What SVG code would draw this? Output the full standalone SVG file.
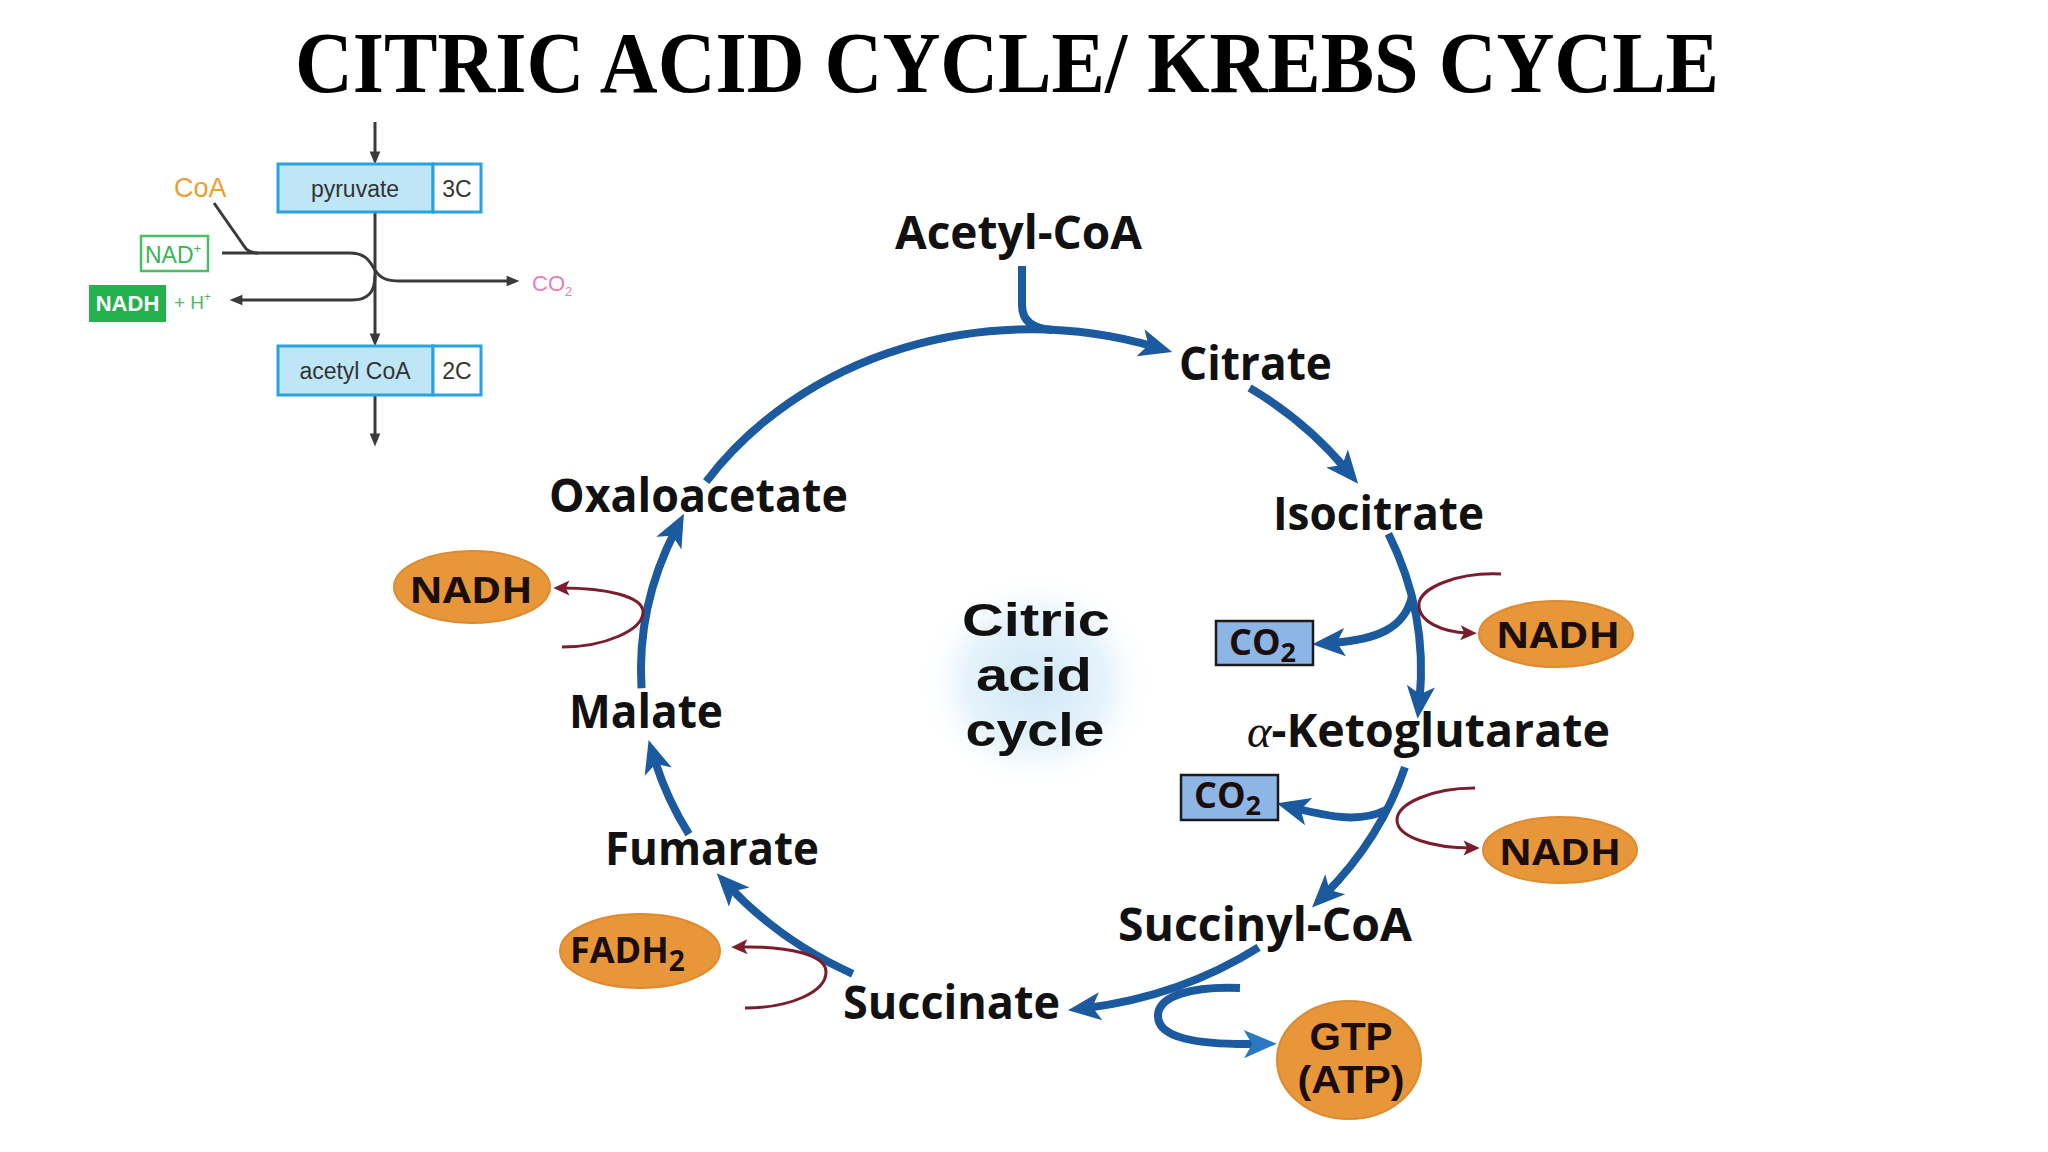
<svg xmlns="http://www.w3.org/2000/svg" width="2048" height="1152" viewBox="0 0 2048 1152">
<defs>
<style>
.title{font-family:"Liberation Serif","Times New Roman",serif;font-weight:700;font-size:87px;fill:#000}
.lbl{font-family:"Open Sans","Liberation Sans",sans-serif;font-weight:700;font-size:46px;fill:#111}
.ctr{font-family:"Liberation Sans","Open Sans",sans-serif;font-weight:700;font-size:47px;fill:#111}
.nad{font-family:"Open Sans","Liberation Sans",sans-serif;font-weight:700;font-size:36px;fill:#1a0d0a}
.gtp{font-family:"Liberation Sans","Open Sans",sans-serif;font-weight:700;font-size:38px;fill:#1a0d0a}
.oval{fill:#E8963A;stroke:#DE8A2E;stroke-width:2}
.co2box{fill:#8DB6E6;stroke:#1b1b1b;stroke-width:2.5}
.arc{fill:none;stroke:#1B5A9E;stroke-width:8;marker-end:url(#ab)}
.red{fill:none;stroke:#7A1D2C;stroke-width:3;marker-end:url(#ar)}
.ins{fill:none;stroke:#3a3a3a;stroke-width:3}
.insA{marker-end:url(#ai)}
.ibox{fill:#BFE6F6;stroke:#29A3DE;stroke-width:3}
.iwhite{fill:#fff;stroke:#29A3DE;stroke-width:3}
.itxt{font-family:"Liberation Sans",Arial,sans-serif;font-size:23px;fill:#333}
</style>
<marker id="ab" markerUnits="userSpaceOnUse" markerWidth="40" markerHeight="40" viewBox="-2 -15 34 30" refX="12" refY="0" orient="auto">
<path d="M0,-12 L28,0 L0,12 L7,0 Z" fill="#1B5A9E"/>
</marker>
<marker id="abl" markerUnits="userSpaceOnUse" markerWidth="40" markerHeight="40" viewBox="-2 -15 34 30" refX="12" refY="0" orient="auto">
<path d="M0,-12 L28,0 L0,12 L7,0 Z" fill="#2B78C2"/>
</marker>
<marker id="ar" markerUnits="userSpaceOnUse" markerWidth="20" markerHeight="20" viewBox="-1 -8 16 16" refX="6" refY="0" orient="auto">
<path d="M0,-6 L13,0 L0,6 L3,0 Z" fill="#7A1D2C"/>
</marker>
<marker id="ai" markerUnits="userSpaceOnUse" markerWidth="16" markerHeight="16" viewBox="-1 -7 15 14" refX="6" refY="0" orient="auto">
<path d="M0,-5 L12,0 L0,5 Z" fill="#3a3a3a"/>
</marker>
<radialGradient id="glow" cx="0.5" cy="0.5" r="0.5">
<stop offset="0" stop-color="#CFE8F7"/>
<stop offset="0.6" stop-color="#E6F3FB"/>
<stop offset="1" stop-color="#ffffff" stop-opacity="0"/>
</radialGradient>
</defs>
<rect width="2048" height="1152" fill="#fff"/>

<text id="title" class="title" x="295" y="92" textLength="1424" lengthAdjust="spacingAndGlyphs">CITRIC ACID CYCLE/ KREBS CYCLE</text>

<!-- Inset: pyruvate to acetyl CoA -->
<g id="inset-connectors">
<path class="ins insA" d="M375,122 L375,158"/>
<path class="ins insA" d="M375,212 L375,340"/>
<path class="ins insA" d="M375,395 L375,440"/>
<path class="ins" d="M214,203 L244,246 Q248,253 258,253"/>
<path class="ins insA" d="M222,253 L350,253 C366,253 370,262 375,270 C380,278 386,281 400,281 L513,281"/>
<path class="ins insA" d="M375,276 C375,292 368,300 352,300 L236,300"/>
</g>
<g id="pyruvate">
<rect class="ibox" x="278" y="164" width="155" height="48"/>
<rect class="iwhite" x="433" y="164" width="48" height="48"/>
<text class="itxt" x="355" y="197" text-anchor="middle">pyruvate</text>
<text class="itxt" x="457" y="197" text-anchor="middle">3C</text>
</g>
<g id="acetylcoa-box">
<rect class="ibox" x="278" y="346" width="155" height="49"/>
<rect class="iwhite" x="433" y="346" width="48" height="49"/>
<text class="itxt" x="355" y="379" text-anchor="middle">acetyl CoA</text>
<text class="itxt" x="457" y="379" text-anchor="middle">2C</text>
</g>
<g id="coa-in">
<text x="174" y="197" font-family="Liberation Sans,Arial,sans-serif" font-size="27" fill="#E8A02E">CoA</text>
</g>
<g id="nad-in">
<rect x="141" y="236" width="67" height="35" fill="#fff" stroke="#48BE6A" stroke-width="2.5"/>
<text x="145" y="263" font-family="Liberation Sans,Arial,sans-serif" font-size="23" fill="#3DB25A">NAD<tspan font-size="13" dy="-10">+</tspan></text>
</g>
<g id="nadh-out">
<rect x="89" y="285" width="77" height="37" fill="#22B14C"/>
<text x="127.5" y="311" text-anchor="middle" font-family="Liberation Sans,Arial,sans-serif" font-weight="700" font-size="22" fill="#fff">NADH</text>
<text x="174" y="309" font-family="Liberation Sans,Arial,sans-serif" font-size="19" fill="#4DB86A">+ H<tspan font-size="12" dy="-8">+</tspan></text>
</g>
<g id="co2-out">
<text x="532" y="291" font-family="Liberation Sans,Arial,sans-serif" font-size="22" fill="#E77DB8">CO<tspan font-size="13" dy="5">2</tspan></text>
</g>

<!-- Cycle centre -->
<g id="centre">
<ellipse cx="1036" cy="682" rx="118" ry="110" fill="url(#glow)"/>
<text class="ctr" x="1036" y="636" text-anchor="middle" textLength="148" lengthAdjust="spacingAndGlyphs">Citric</text>
<text class="ctr" x="1034" y="691" text-anchor="middle" textLength="116" lengthAdjust="spacingAndGlyphs">acid</text>
<text class="ctr" x="1035" y="746" text-anchor="middle" textLength="139" lengthAdjust="spacingAndGlyphs">cycle</text>
</g>

<!-- Connectors -->
<g id="connectors">
<path class="arc" d="M706.2,481.6 A390 341.1 0 0 1 1154.1,346.7"/>
<path fill="none" stroke="#1B5A9E" stroke-width="8" d="M1022,266 L1022,305 Q1022,328 1052,330"/>
<path class="arc" d="M1249.6,387.9 A390 341.1 0 0 1 1346.1,469.4"/>
<path class="arc" d="M1388.4,533.8 A390 341.1 0 0 1 1419.5,700.1"/>
<path class="arc" d="M1404.9,767.3 A390 341.1 0 0 1 1325.3,894.2"/>
<path class="arc" d="M1258.6,947.4 A390 341.1 0 0 1 1086.6,1008"/>
<path class="arc" d="M852.7,973.8 A390 341.1 0 0 1 729.6,886.9"/>
<path class="arc" d="M688.9,834.2 A390 341.1 0 0 1 654.1,758.1"/>
<path class="arc" d="M641.5,688.2 A390 341.1 0 0 1 675.3,530.6"/>
<path class="arc" d="M1412,596 C1405,628 1377,640 1331,643"/>
<path class="arc" d="M1386,810 C1362,822 1333,818 1295,808"/>
<path fill="none" stroke="#1B5A9E" stroke-width="8" marker-end="url(#abl)" d="M1240,988 C1191,986 1159,996 1158,1015 C1157,1038 1196,1045 1258,1044"/>
<path class="red" d="M1501,574 C1457,572 1420,588 1419,604 C1418,622 1443,632 1468,633"/>
<path class="red" d="M1475,788 C1431,788 1397,804 1397,820 C1397,838 1435,848 1471,848"/>
<path class="red" d="M562,647 C605,647 643,630 643,612 C643,596 605,588 562,588"/>
<path class="red" d="M745,1008 C790,1008 826,992 826,972 C826,955 790,946 740,947"/>
</g>

<!-- Nodes -->
<g id="acetyl-coa"><text class="lbl" x="895" y="249" textLength="247" lengthAdjust="spacingAndGlyphs">Acetyl-CoA</text></g>
<g id="citrate"><text class="lbl" x="1179" y="380" textLength="153" lengthAdjust="spacingAndGlyphs">Citrate</text></g>
<g id="isocitrate"><text class="lbl" x="1273" y="530" textLength="211" lengthAdjust="spacingAndGlyphs">Isocitrate</text></g>
<g id="ketoglutarate"><text class="lbl" x="1247" y="747" textLength="363" lengthAdjust="spacingAndGlyphs"><tspan font-family="Liberation Serif,serif" font-style="italic" font-weight="400">α</tspan>-Ketoglutarate</text></g>
<g id="succinyl-coa"><text class="lbl" x="1118" y="941" textLength="294" lengthAdjust="spacingAndGlyphs">Succinyl-CoA</text></g>
<g id="succinate"><text class="lbl" x="843" y="1019" textLength="217" lengthAdjust="spacingAndGlyphs">Succinate</text></g>
<g id="fumarate"><text class="lbl" x="605" y="865" textLength="214" lengthAdjust="spacingAndGlyphs">Fumarate</text></g>
<g id="malate"><text class="lbl" x="569" y="728" textLength="154" lengthAdjust="spacingAndGlyphs">Malate</text></g>
<g id="oxaloacetate"><text class="lbl" x="549" y="512" textLength="299" lengthAdjust="spacingAndGlyphs">Oxaloacetate</text></g>

<g id="co2-1">
<rect class="co2box" x="1216" y="621" width="97" height="44"/>
<text class="nad" x="1229" y="655">CO<tspan font-size="27" dy="7">2</tspan></text>
</g>
<g id="co2-2">
<rect class="co2box" x="1181" y="775" width="97" height="45"/>
<text class="nad" x="1194" y="808">CO<tspan font-size="27" dy="7">2</tspan></text>
</g>
<g id="nadh-1">
<ellipse class="oval" cx="1556" cy="634" rx="77" ry="33"/>
<text class="nad" x="1558" y="648" text-anchor="middle" textLength="124" lengthAdjust="spacingAndGlyphs">NADH</text>
</g>
<g id="nadh-2">
<ellipse class="oval" cx="1560" cy="850" rx="77" ry="33"/>
<text class="nad" x="1560" y="865" text-anchor="middle" textLength="122" lengthAdjust="spacingAndGlyphs">NADH</text>
</g>
<g id="nadh-3">
<ellipse class="oval" cx="472" cy="587" rx="78" ry="36"/>
<text class="nad" x="471" y="603" text-anchor="middle" textLength="123" lengthAdjust="spacingAndGlyphs">NADH</text>
</g>
<g id="fadh2">
<ellipse class="oval" cx="640" cy="951" rx="80" ry="37"/>
<text class="nad" x="570" y="963">FADH<tspan font-size="28" dy="8">2</tspan></text>
</g>
<g id="gtp">
<ellipse class="oval" cx="1349" cy="1060" rx="72" ry="59"/>
<text class="gtp" x="1351" y="1050" text-anchor="middle" textLength="83" lengthAdjust="spacingAndGlyphs">GTP</text>
<text class="gtp" x="1351" y="1093" text-anchor="middle" textLength="107" lengthAdjust="spacingAndGlyphs">(ATP)</text>
</g>
</svg>
